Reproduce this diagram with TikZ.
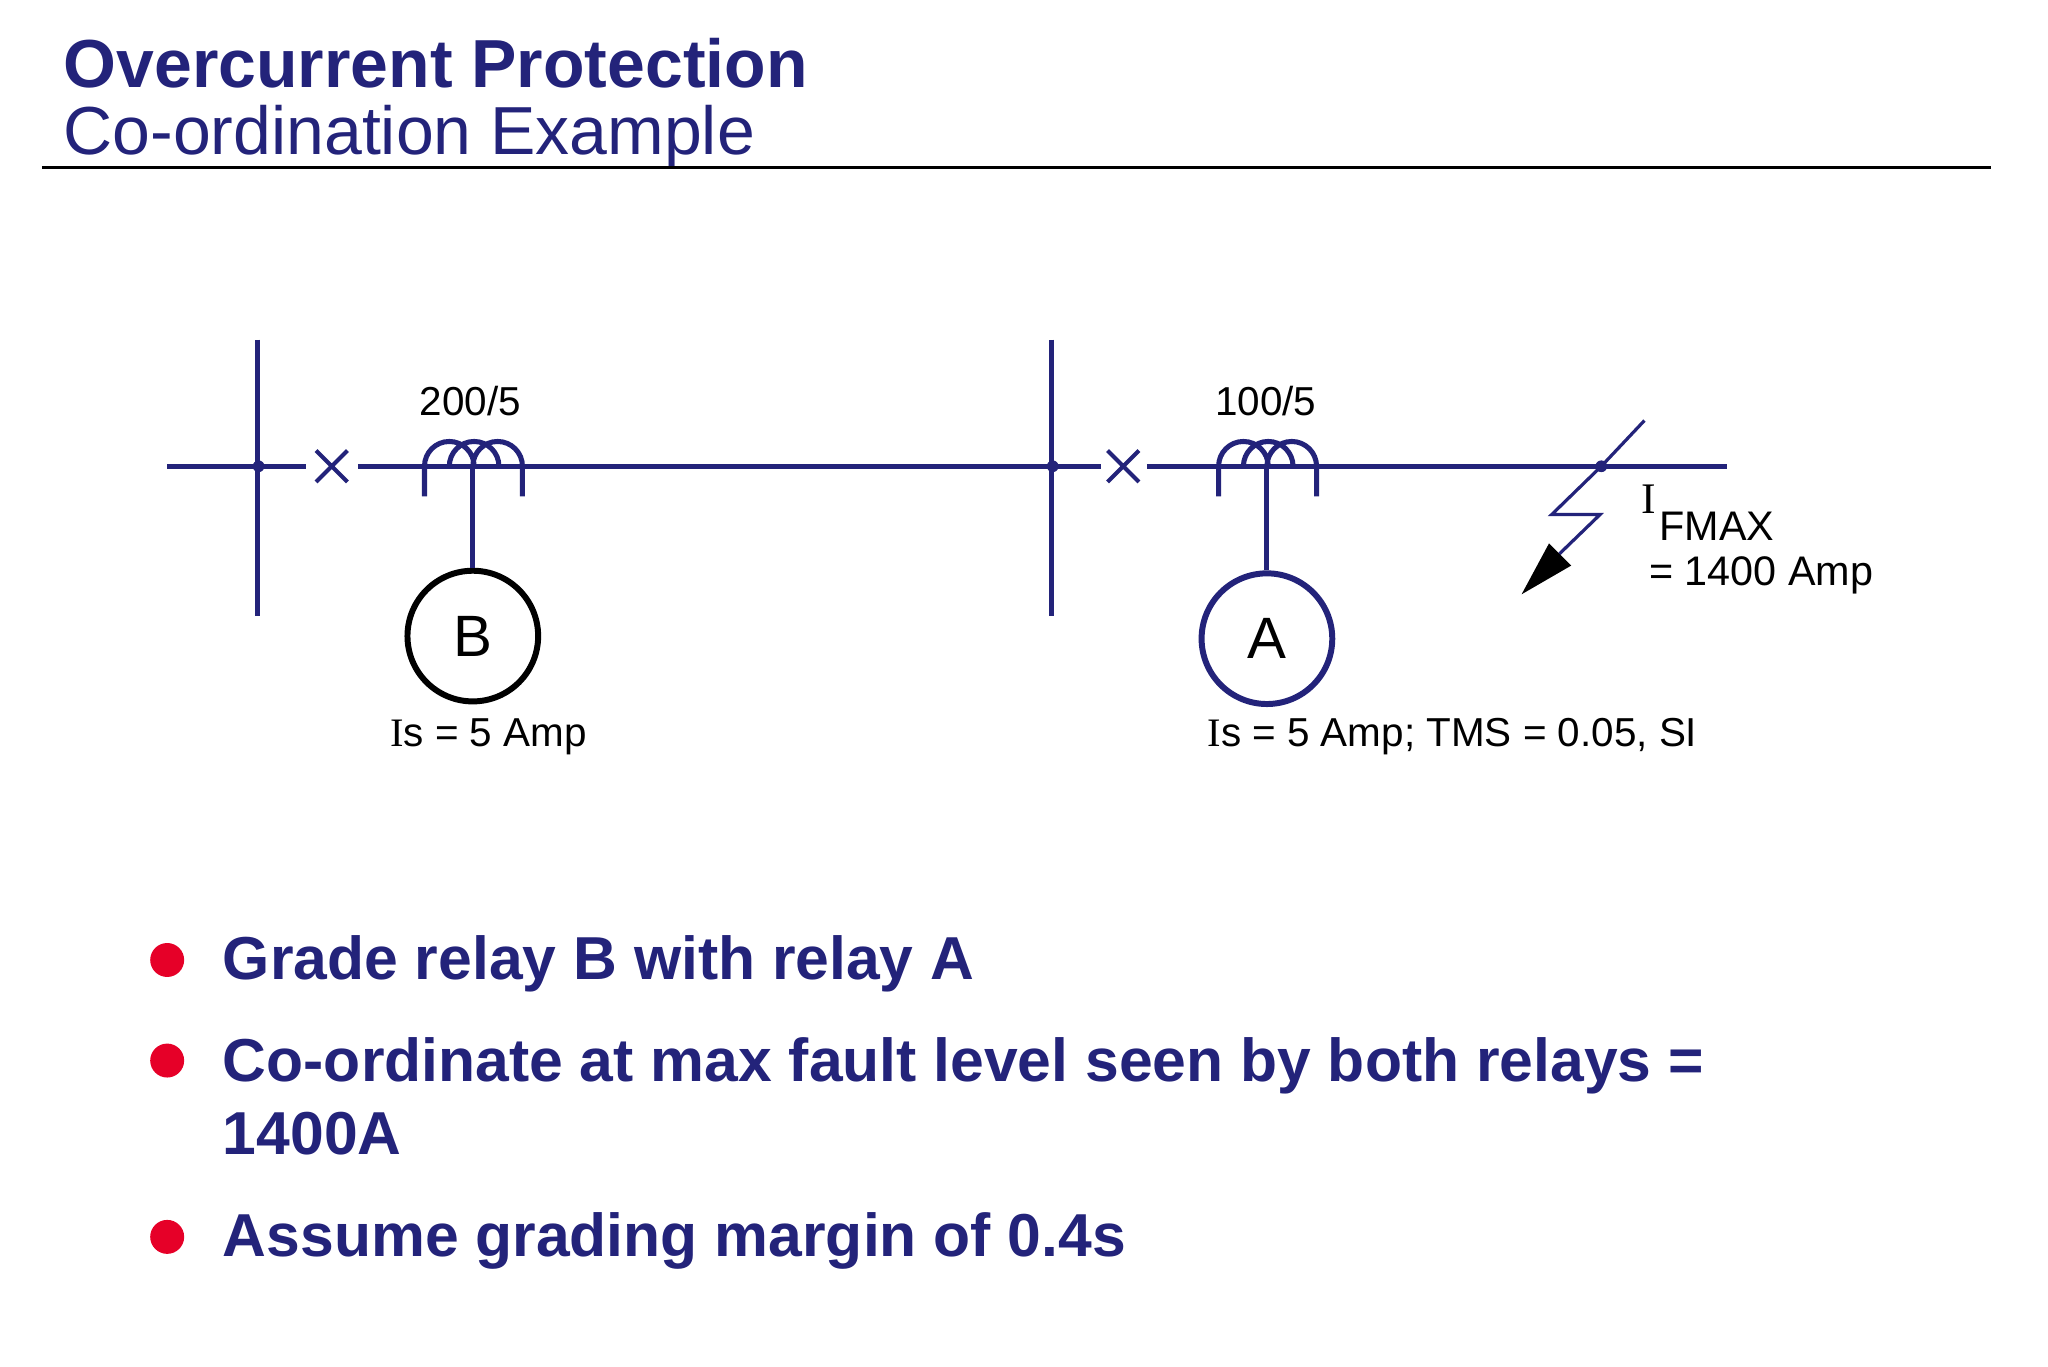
\documentclass[tikz,border=0pt]{standalone}
\usepackage{fontspec}
\setmainfont{Liberation Sans}
\newfontfamily\serifI{Liberation Serif}
\begin{document}
\begin{tikzpicture}[x=0.01cm,y=-0.01cm,
  navy/.style={draw={rgb,255:red,35;green,35;blue,122}},
  wire/.style={navy,line width=1.1pt},
  thin/.style={navy,line width=0.7pt},
  lbl/.style={inner sep=0pt,font=\fontsize{8.8}{10}\selectfont},
  relay/.style={draw,line width=1.3pt,circle,minimum size=1cm,inner sep=0pt,font=\fontsize{12.7}{14}\selectfont},
  blt/.style={inner sep=0pt,anchor=base west,font=\fontsize{13.2}{16}\selectfont\bfseries,text={rgb,255:red,35;green,35;blue,122}}]
\definecolor{nv}{RGB}{35,35,122}
\useasboundingbox (0,0) rectangle (1568,1046);
% title
\node[anchor=base west,inner sep=0pt,text=nv,font=\fontsize{14.8}{18}\selectfont\bfseries] (t1) at (48,67) {Overcurrent Protection};
\node[anchor=base west,inner sep=0pt,text=nv,font=\fontsize{14.8}{18}\selectfont] (t2) at (48,118) {Co-ordination Example};
\draw[line width=0.6pt] (32,128) -- (1524,128);
% coordinates
\coordinate (L0) at (128,357);
\coordinate (J1) at (198,357);
\coordinate (J2) at (806,357);
\coordinate (J3) at (1226,357);
\coordinate (R0) at (1322,357);
% bus line segments
\draw[wire] (L0) -- (234,357);
\draw[wire] (274,357) -- (843,357);
\draw[wire] (878,357) -- (R0);
\draw[wire] (197,260) -- (197,472);
\draw[wire] (805,260) -- (805,472);
\fill[nv] (J1) circle (4.5); \fill[nv] (J2) circle (4.5); \fill[nv] (J3) circle (4.5);
% breakers
\foreach \x in {254,860}{\draw[thin,line width=0.9pt] (\x-12,345) -- (\x+12,369) (\x-12,369) -- (\x+12,345);}
% CTs
\foreach \c in {362,970}{
  \draw[wire] (\c-37,380) -- (\c-37,357) arc[start angle=180,end angle=360,radius=19]
     (\c-18,357) arc[start angle=180,end angle=360,radius=19]
     (\c,357) arc[start angle=180,end angle=360,radius=19] -- (\c+38,380);
}
\node[lbl] (ctb) at (360,307) {200/5};
\node[lbl] (cta) at (969,307) {100/5};
% relays
\node[relay] (B) at (362,487) {B};
\node[relay,draw=nv] (A) at (970,489) {A};
\draw[wire] (362,357) -- (B.north);
\draw[wire] (970,357) -- (A.north);
\node[lbl] (isb) at (374,564) {{\serifI I}s = 5 Amp};
\node[lbl] (isa) at (1112,564) {{\serifI I}s = 5 Amp; TMS = 0.05, SI};
% fault
\coordinate (F0) at (1259,322);
\coordinate (F1) at (1188,394);
\coordinate (F2) at (1225,394);
\coordinate (F3) at (1194,424);
\draw[thin] (F0) -- (J3) -- (F1) -- (F2) -- (F3);
\fill (1165,455) -- (1186,416) -- (1203,433) -- cycle;
\node[inner sep=0pt,anchor=base west,font=\fontsize{9.5}{11}\selectfont\serifI] (fi) at (1256,393) {I};
\node[inner sep=0pt,anchor=base west,font=\fontsize{9}{11}\selectfont] (fm) at (1270,414) {FMAX};
\node[inner sep=0pt,anchor=base west,font=\fontsize{9}{11}\selectfont] (fv) at (1262,448) {= 1400 Amp};
% bullets
\definecolor{rd}{RGB}{230,0,40}
\foreach \y in {735,812,947}{\fill[rd] (128,\y) circle (13);}
\node[blt] (b1) at (170,750) {Grade relay B with relay A};
\node[blt] (b2) at (170,828) {Co-ordinate at max fault level seen by both relays =};
\node[blt] (b3) at (170,884) {1400A};
\node[blt] (b4) at (170,962) {Assume grading margin of 0.4s};
\end{tikzpicture}
\end{document}
